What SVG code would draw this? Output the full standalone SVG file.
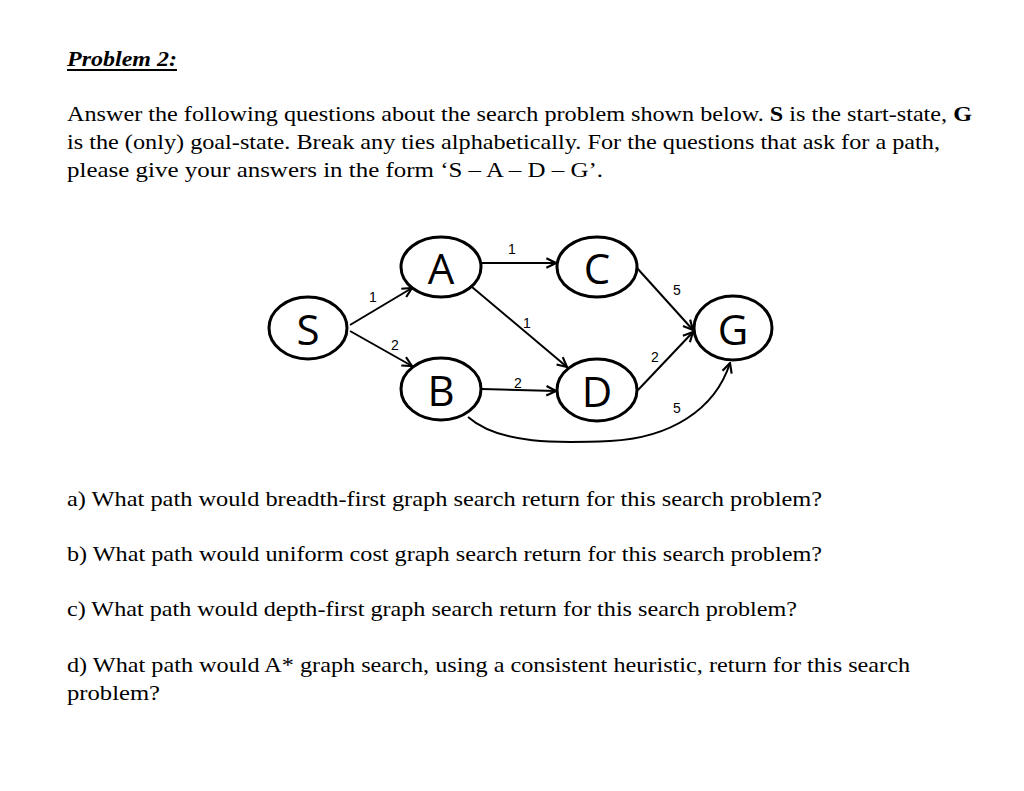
<svg xmlns="http://www.w3.org/2000/svg" width="1024" height="791" viewBox="0 0 1024 791">
<style>
.t{font-family:"Liberation Serif",serif;font-size:22px;fill:#000}
.n{fill:#fff;stroke:#000;stroke-width:3}
.nl{font-family:"Open Sans","DejaVu Sans",sans-serif;font-size:42px;text-anchor:middle;dominant-baseline:central}
.e{stroke:#000;stroke-width:2;fill:none;marker-end:url(#ar)}
.el{font-family:"Liberation Sans",sans-serif;font-size:14px;text-anchor:middle}
</style>
<defs><marker id="ar" viewBox="0 0 10 10" refX="9" refY="5" markerWidth="6" markerHeight="6" orient="auto"><path d="M1,1 L9,5 L1,9" fill="none" stroke="#000" stroke-width="1.8"/></marker></defs>
<rect width="1024" height="791" fill="#fff"/>
<text class="t" x="67" y="66" font-weight="bold" font-style="italic" textLength="110" lengthAdjust="spacingAndGlyphs">Problem 2:</text>
<line x1="67" y1="70" x2="177" y2="70" stroke="#000" stroke-width="2"/>
<text class="t" x="67" y="121" textLength="905" lengthAdjust="spacingAndGlyphs">Answer the following questions about the search problem shown below. <tspan font-weight="bold">S</tspan> is the start-state, <tspan font-weight="bold">G</tspan></text>
<text class="t" x="67" y="149" textLength="873" lengthAdjust="spacingAndGlyphs">is the (only) goal-state. Break any ties alphabetically. For the questions that ask for a path,</text>
<text class="t" x="67" y="177" textLength="536" lengthAdjust="spacingAndGlyphs">please give your answers in the form ‘S – A – D – G’.</text>
<g id="connectors">
<line class="e" x1="350" y1="325" x2="412" y2="288"/>
<line class="e" x1="350" y1="331" x2="412" y2="366"/>
<line class="e" x1="482" y1="263" x2="556" y2="263"/>
<line class="e" x1="472" y1="287" x2="567" y2="367"/>
<line class="e" x1="482" y1="389" x2="556" y2="391"/>
<line class="e" x1="637" y1="268" x2="693" y2="330"/>
<line class="e" x1="638" y1="390" x2="693" y2="332"/>
<path class="e" d="M468,417 C500,445 560,443 610,441 C670,438 715,410 730,363"/>
<text class="el" x="373" y="302">1</text>
<text class="el" x="395" y="350">2</text>
<text class="el" x="512" y="254">1</text>
<text class="el" x="527" y="328">1</text>
<text class="el" x="518" y="388">2</text>
<text class="el" x="677" y="295">5</text>
<text class="el" x="655" y="362">2</text>
<text class="el" x="677" y="413">5</text>
</g>
<g id="S"><ellipse class="n" cx="308" cy="328" rx="39" ry="31"/><text class="nl" x="308" y="328">S</text></g>
<g id="A"><ellipse class="n" cx="441" cy="267" rx="40" ry="30"/><text class="nl" x="441" y="267">A</text></g>
<g id="C"><ellipse class="n" cx="597" cy="267" rx="40" ry="30"/><text class="nl" x="597" y="267">C</text></g>
<g id="B"><ellipse class="n" cx="441" cy="389" rx="40" ry="31"/><text class="nl" x="441" y="389">B</text></g>
<g id="D"><ellipse class="n" cx="597" cy="390" rx="40" ry="31"/><text class="nl" x="597" y="390">D</text></g>
<g id="G"><ellipse class="n" cx="733" cy="328" rx="39" ry="32"/><text class="nl" x="733" y="328">G</text></g>
<text class="t" x="67" y="506" textLength="755" lengthAdjust="spacingAndGlyphs">a)  What path would breadth-first graph search return for this search problem?</text>
<text class="t" x="67" y="561" textLength="755" lengthAdjust="spacingAndGlyphs">b) What path would uniform cost graph search return for this search problem?</text>
<text class="t" x="67" y="616" textLength="730" lengthAdjust="spacingAndGlyphs">c) What path would depth-first graph search return for this search problem?</text>
<text class="t" x="67" y="672" textLength="843" lengthAdjust="spacingAndGlyphs">d) What path would A* graph search, using a consistent heuristic, return for this search</text>
<text class="t" x="67" y="700" textLength="93" lengthAdjust="spacingAndGlyphs">problem?</text>
</svg>
